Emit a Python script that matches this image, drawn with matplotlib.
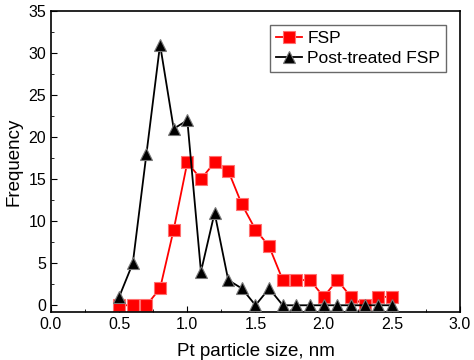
import matplotlib
matplotlib.use("Agg")
import matplotlib.pyplot as plt
from matplotlib.ticker import MultipleLocator

plt.rcParams['font.family'] = ['Liberation Sans', 'DejaVu Sans']

# particle size bins (nm)
sizes = [0.5, 0.6, 0.7, 0.8, 0.9, 1.0, 1.1, 1.2, 1.3, 1.4, 1.5,
         1.6, 1.7, 1.8, 1.9, 2.0, 2.1, 2.2, 2.3, 2.4, 2.5]
fsp = [0, 0, 0, 2, 9, 17, 15, 17, 16, 12, 9,
       7, 3, 3, 3, 1, 3, 1, 0, 1, 1]
post_fsp = [1, 5, 18, 31, 21, 22, 4, 11, 3, 2, 0,
            2, 0, 0, 0, 0, 0, 0, 0, 0, 0]

fig = plt.figure(figsize=(4.74, 3.6), dpi=100)
ax = fig.add_axes([51/474, 1 - 312/360, 409/474, 301/360])

ax.plot(sizes, fsp, color='red', lw=1.3, marker='s', ms=8.5,
        mfc='red', mec='#ff7070', mew=0.8, label='FSP', zorder=2)
ax.plot(sizes, post_fsp, color='black', lw=1.3, marker='^', ms=9,
        mfc='black', mec='#777777', mew=0.8, label='Post-treated FSP', zorder=3)

ax.set_xlim(0, 3.0)
ax.set_ylim(-0.8, 35)
ax.xaxis.set_major_locator(MultipleLocator(0.5))
ax.xaxis.set_minor_locator(MultipleLocator(0.25))
ax.yaxis.set_major_locator(MultipleLocator(5))
ax.yaxis.set_minor_locator(MultipleLocator(2.5))
ax.xaxis.set_major_formatter(matplotlib.ticker.FormatStrFormatter('%.1f'))
ax.tick_params(which='both', direction='in', top=False, right=False, labelsize=11.5)
ax.tick_params(which='major', length=4)
ax.tick_params(which='minor', length=2)
for s in ax.spines.values():
    s.set_linewidth(1.2)

ax.set_xlabel('Pt particle size, nm', fontsize=13.5, labelpad=8)
ax.set_ylabel('Frequency', fontsize=13.5)

leg = ax.legend(loc='upper right', fontsize=12.5, frameon=True, fancybox=False,
                edgecolor='#444444', handlelength=1.5, handletextpad=0.3,
                labelspacing=0.25, borderpad=0.35, borderaxespad=0.8)
leg.get_frame().set_linewidth(1.0)

fig.savefig('out.png', dpi=100)
